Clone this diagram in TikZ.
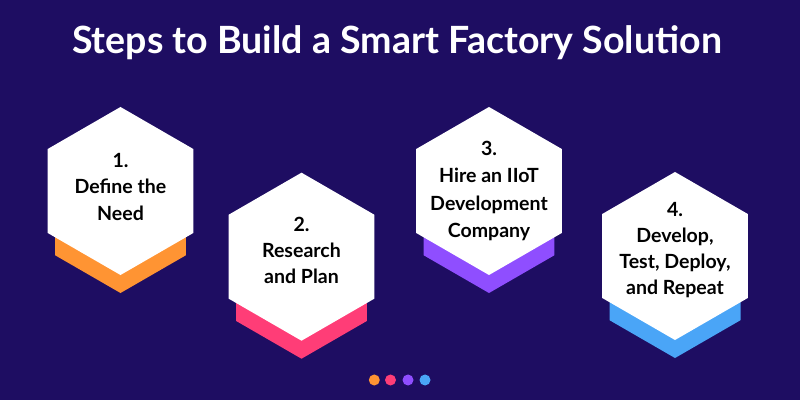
\documentclass[tikz,border=0pt]{standalone}
\usepackage{fontspec}
\setmainfont{Lato}
\usetikzlibrary{shapes.geometric,calc}
\definecolor{factoryNavy}{RGB}{30,13,98}
\definecolor{factoryOrange}{RGB}{255,148,51}
\definecolor{factoryPink}{RGB}{255,61,119}
\definecolor{factoryPurple}{RGB}{143,78,255}
\definecolor{factoryBlue}{RGB}{74,165,247}

\begin{document}
\begin{tikzpicture}[
  x=0.025cm,
  y=0.025cm,
  hexface/.style={
    regular polygon,
    regular polygon sides=6,
    shape border rotate=30,
    minimum size=4.2cm,
    inner sep=0pt,
    outer sep=0pt,
    fill=white
  },
  hexback/.style={
    regular polygon,
    regular polygon sides=6,
    shape border rotate=30,
    minimum size=3.78cm,
    inner sep=0pt,
    outer sep=0pt
  },
  steptext/.style={
    align=center,
    inner sep=0pt,
    text=black,
    font=\bfseries\fontsize{13.9}{18.5}\selectfont
  },
  stepdot/.style={
    circle,
    minimum size=0.275cm,
    inner sep=0pt
  }
]
  \fill[factoryNavy] (0,0) rectangle (800,400);
  \useasboundingbox (0,0) rectangle (800,400);

  \node[text=white,font=\bfseries\fontsize{26.7}{30}\selectfont] (title) at (397,357) {Steps to Build a Smart Factory Solution};

  \node[hexback,fill=factoryOrange] (back1) at (120.5,182.6) {};
  \node[hexface] (hex1) at (120.5,209) {};
  \node[steptext] (step1) at ($(hex1)+(0,4)$) {1.\\Define the\\Need};

  \node[hexback,fill=factoryPink] (back2) at (301.5,116.9) {};
  \node[hexface] (hex2) at (301.5,143.3) {};
  \node[steptext] (step2) at ($(hex2)+(0,6)$) {2.\\Research\\and Plan};

  \node[hexback,fill=factoryPurple] (back3) at (489,182.6) {};
  \node[hexface] (hex3) at (489,209) {};
  \node[steptext,font=\bfseries\fontsize{13.9}{19.5}\selectfont] (step3) at ($(hex3)+(0,0)$) {3.\\Hire an IIoT\\Development\\Company};

  \node[hexback,fill=factoryBlue] (back4) at (675,117.6) {};
  \node[hexface] (hex4) at (675,144) {};
  \node[steptext] (step4) at ($(hex4)+(0,6)$) {4.\\Develop,\\Test, Deploy,\\and Repeat};

  \node[stepdot,fill=factoryOrange] (dot1) at (374.3,20) {};
  \node[stepdot,fill=factoryPink] (dot2) at (390.5,20) {};
  \node[stepdot,fill=factoryPurple] (dot3) at (408,20) {};
  \node[stepdot,fill=factoryBlue] (dot4) at (425,20) {};
\end{tikzpicture}
\end{document}
